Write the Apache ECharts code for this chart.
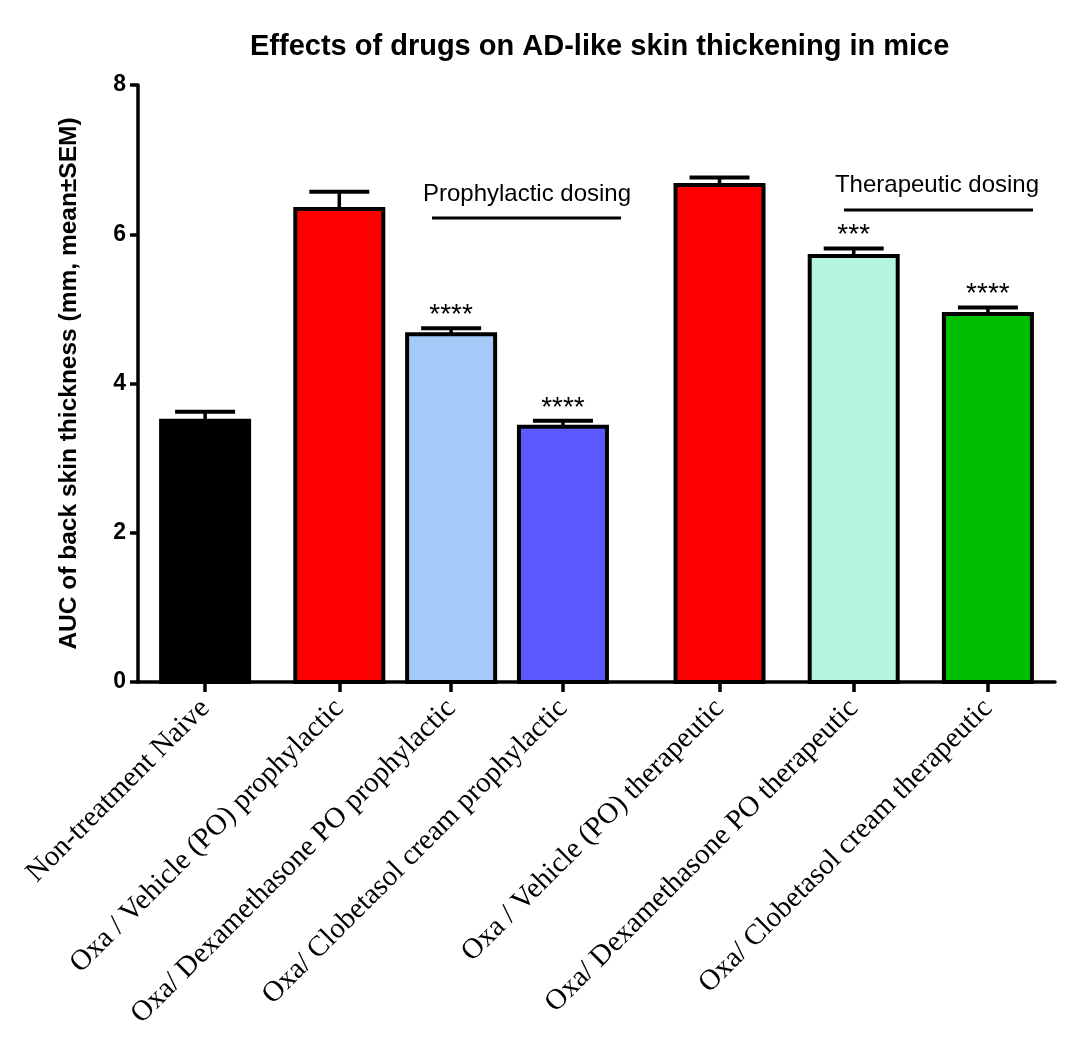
<!DOCTYPE html>
<html>
<head>
<meta charset="utf-8">
<script src="https://cdn.jsdelivr.net/npm/echarts@6/dist/echarts.min.js"></script>
<style>
html,body{margin:0;padding:0;background:#fff;}
#chart{width:1069px;height:1055px;}
</style>
</head>
<body>
<div id="chart"></div>
<script>
// ---- data ----
const categories = [
  'Non-treatment Naive',
  'Oxa / Vehicle (PO) prophylactic',
  'Oxa/ Dexamethasone PO prophylactic',
  'Oxa/ Clobetasol cream prophylactic',
  'Oxa / Vehicle (PO) therapeutic',
  'Oxa/ Dexamethasone PO therapeutic',
  'Oxa/ Clobetasol cream therapeutic'
];
const means = [3.50, 6.34, 4.66, 3.42, 6.66, 5.71, 4.93];
const sems = [0.12, 0.23, 0.08, 0.08, 0.10, 0.10, 0.09];
const significance = ['', '', '****', '****', '', '***', '****'];
const yTicks = [0, 2, 4, 6, 8];
const groupLabels = ['Prophylactic dosing', 'Therapeutic dosing'];
const titleText = 'Effects of drugs on AD-like skin thickening in mice';
const yTitle = 'AUC of back skin thickness (mm, mean\u00B1SEM)';

// ---- styling / layout (not data) ----
const barColors = ['#000000', '#FF0000', '#A6CAF8', '#5A5AFF', '#FF0000', '#B5F5DE', '#00BF00'];
const slotGaps = [3, 6, 5, 5, 7, 6, 6];   // spacing of groups along the category axis
const totalSlots = 42;

const slotNames = [];
for (let i = 0; i < totalSlots; i++) slotNames.push('\u200B'.repeat(i + 1));
const realIndex = {};
let pos = 0;
categories.forEach((c, i) => {
  pos += slotGaps[i];
  slotNames[pos] = c;
  realIndex[pos] = true;
});
const isReal = (idx) => !!realIndex[idx];

const sansFont = "'Liberation Sans', Arial, sans-serif";
const serifFont = "'Liberation Serif', 'Times New Roman', serif";

const chart = echarts.init(document.getElementById('chart'), null, {renderer: 'canvas'});

const option = {
  backgroundColor: '#ffffff',
  animation: false,
  title: {
    text: titleText,
    left: 245,
    top: 27,
    textStyle: {fontFamily: sansFont, fontWeight: 'bold', fontSize: 29, color: '#000'}
  },
  grid: {left: 138, right: 14, top: 85, bottom: 373, containLabel: false},
  xAxis: {
    type: 'category',
    data: slotNames,
    boundaryGap: false,
    axisLine: {show: true, lineStyle: {color: '#000', width: 3.5}},
    axisTick: {show: true, length: 10, inside: false, lineStyle: {color: '#000', width: 3.5},
      interval: (idx) => isReal(idx)},
    axisLabel: {
      interval: (idx) => isReal(idx),
      rotate: 45,
      margin: 22,
      fontFamily: serifFont,
      fontSize: 29,
      color: '#000'
    },
    splitLine: {show: false}
  },
  yAxis: {
    type: 'value',
    min: yTicks[0],
    max: yTicks[yTicks.length - 1],
    interval: yTicks[1] - yTicks[0],
    name: yTitle,
    nameLocation: 'middle',
    nameGap: 56,
    nameTextStyle: {fontFamily: sansFont, fontWeight: 'bold', fontSize: 24.5, color: '#000'},
    axisLine: {show: true, lineStyle: {color: '#000', width: 3.5}},
    axisTick: {show: true, length: 8, inside: false, lineStyle: {color: '#000', width: 3.5}},
    axisLabel: {margin: 12, fontFamily: sansFont, fontWeight: 'bold', fontSize: 23, color: '#000'},
    splitLine: {show: false}
  },
  series: [{
    type: 'custom',
    coordinateSystem: 'cartesian2d',
    data: categories.map((c, i) => [c, means[i], sems[i]]),
    encode: {x: 0, y: 1},
    renderItem: function (params, api) {
      const i = params.dataIndex;
      const xi = api.value(0);
      const m = api.value(1);
      const s = api.value(2);
      const base = api.coord([xi, 0]);
      const top = api.coord([xi, m]);
      const err = api.coord([xi, m + s]);
      const bw = 88, cw = 60;
      const children = [
        {type: 'line', shape: {x1: top[0], y1: top[1], x2: err[0], y2: err[1]},
          style: {stroke: '#000', lineWidth: 3.5}},
        {type: 'line', shape: {x1: err[0] - cw / 2, y1: err[1], x2: err[0] + cw / 2, y2: err[1]},
          style: {stroke: '#000', lineWidth: 4}},
        {type: 'rect', shape: {x: top[0] - bw / 2, y: top[1], width: bw, height: base[1] - top[1]},
          style: {fill: barColors[i], stroke: '#000', lineWidth: 4}}
      ];
      if (significance[i]) {
        children.push({type: 'text', style: {
          text: significance[i], x: err[0], y: err[1] + 1,
          align: 'center', verticalAlign: 'bottom',
          font: '28px ' + sansFont, fill: '#000'
        }});
      }
      return {type: 'group', children: children};
    },
    z: 2
  }],
  graphic: [
    {type: 'text', x: 527, y: 194, style: {text: groupLabels[0], align: 'center', verticalAlign: 'middle', font: '24px ' + sansFont, fill: '#000'}},
    {type: 'line', shape: {x1: 432, y1: 218, x2: 621, y2: 218}, style: {stroke: '#000', lineWidth: 3}},
    {type: 'text', x: 937, y: 185, style: {text: groupLabels[1], align: 'center', verticalAlign: 'middle', font: '24px ' + sansFont, fill: '#000'}},
    {type: 'line', shape: {x1: 844, y1: 210, x2: 1033, y2: 210}, style: {stroke: '#000', lineWidth: 3}}
  ]
};
chart.setOption(option);
</script>
</body>
</html>
